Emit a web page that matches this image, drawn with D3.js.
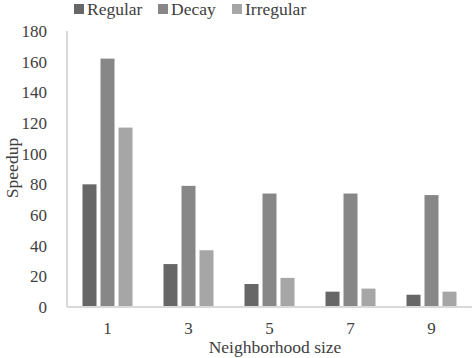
<!DOCTYPE html>
<html><head><meta charset="utf-8">
<script src="https://cdn.jsdelivr.net/npm/d3@7"></script>
<style>body{margin:0;background:#fff}svg{display:block}</style>
</head><body>
<script>
const categories = ["1","3","5","7","9"];
const seriesNames = ["Regular","Decay","Irregular"];
const regular = [80, 28, 15, 10, 8];
const decay = [162, 79, 74, 74, 73];
const irregular = [117, 37, 19, 12, 10];
const yTicks = [0,20,40,60,80,100,120,140,160,180];
const colors = ["#676767","#878787","#a6a6a6"];
const seriesData = [regular, decay, irregular];

const W=474,H=358;
const svg=d3.select("body").append("svg").attr("width",W).attr("height",H)
  .attr("font-family","'Liberation Serif','Times New Roman',serif");
const x0=d3.scaleBand().domain(categories).range([67,472]).paddingInner(0).paddingOuter(0);
const y=d3.scaleLinear().domain([0,180]).range([307,31]);
const barW=14, gap=4;

svg.append("g").selectAll("text").data(yTicks).join("text")
  .attr("x",47).attr("y",d=>y(d)).attr("dy","0.35em").attr("text-anchor","end")
  .attr("font-size",17).attr("fill","#404040").text(d=>d);

svg.append("line").attr("x1",67).attr("x2",67).attr("y1",31).attr("y2",307).attr("stroke","#d9d9d9").attr("stroke-width",2);

seriesData.forEach((vals,si)=>{
  svg.append("g").selectAll("rect").data(vals).join("rect")
    .attr("x",(d,i)=>x0(categories[i])+x0.bandwidth()/2-(3*barW+2*gap)/2+si*(barW+gap))
    .attr("y",d=>y(d)).attr("width",barW).attr("height",d=>y(0)-y(d))
    .attr("fill",colors[si]);
});

svg.append("line").attr("x1",67).attr("x2",472).attr("y1",307).attr("y2",307).attr("stroke","#d9d9d9").attr("stroke-width",2);

svg.append("g").selectAll("text").data(categories).join("text")
  .attr("x",d=>x0(d)+x0.bandwidth()/2).attr("y",328).attr("dy","0.35em").attr("text-anchor","middle")
  .attr("font-size",17).attr("fill","#404040").text(d=>d);

svg.append("text").attr("x",275).attr("y",347).attr("dy","0.35em").attr("text-anchor","middle")
  .attr("font-size",17.5).attr("fill","#404040").text("Neighborhood size");
svg.append("text").attr("transform","translate(12,168) rotate(-90)").attr("dy","0.35em").attr("text-anchor","middle")
  .attr("font-size",17.5).attr("fill","#404040").text("Speedup");

const legX=[74,158,232];
seriesNames.forEach((n,i)=>{
  svg.append("rect").attr("x",legX[i]).attr("y",4).attr("width",10).attr("height",10).attr("fill",colors[i]);
  svg.append("text").attr("x",legX[i]+13).attr("y",15).attr("font-size",17.5).attr("fill","#404040").text(n);
});
</script>
</body></html>
